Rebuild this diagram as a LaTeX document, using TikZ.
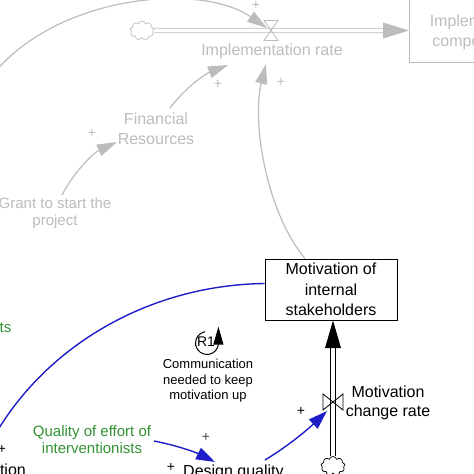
\documentclass[tikz,border=0pt]{standalone}
\usepackage{fontspec}
\setmainfont{Liberation Sans}
\usetikzlibrary{arrows.meta,shapes.symbols,calc}
\definecolor{sdgray}{RGB}{188,188,188}
\definecolor{sdblue}{RGB}{30,30,200}
\definecolor{sdgreen}{RGB}{50,145,50}
\begin{document}
\begin{tikzpicture}[x=1pt,y=-1pt,
  txt/.style={font=\fontsize{16}{19.5}\selectfont, align=center, inner sep=0pt},
  gtxt/.style={txt, text=sdgray},
  small/.style={font=\fontsize{13}{15.5}\selectfont, align=center, inner sep=0pt},
  pl/.style={font=\fontsize{14}{14}\selectfont, inner sep=0pt},
  gpl/.style={pl, text=sdgray},
  ginfl/.style={draw=sdgray, line width=1.2pt, -{Triangle[length=20pt,width=12pt]}},
  binfl/.style={draw=sdblue, line width=1.4pt, -{Triangle[length=19pt,width=12.5pt]}},
  cloudn/.style={cloud, cloud puffs=9, draw, minimum width=24pt, minimum height=19pt, inner sep=0pt, line width=0.7pt},
  flowpipe/.style={line width=0.9pt, double=white, double distance=3.6pt},
]
\useasboundingbox (0,0) rectangle (474,474);
\clip (0,0) rectangle (474,474);

% ---------- top stock-flow (gray) ----------
\node[cloudn, draw=sdgray] (ctop) at (142,30.5) {};
\coordinate (vtop) at (271,30.5);
\node[draw=sdgray, line width=0.9pt, minimum width=134pt, minimum height=80pt, anchor=south west] (impl) at (409,63) {};
\node[gtxt] (impltxt) at (476,32.5) {Implemented\\components};
\coordinate (tbase) at (383,30.5);
\draw[flowpipe, sdgray] (ctop.east) -- (tbase);
\fill[sdgray] ($(tbase)+(0,-8)$) -- (tbase -| impl.west) -- ($(tbase)+(0,8)$) -- cycle;
\draw[sdgray, line width=0.8pt] ($(vtop)+(-7,-10)$) -- ($(vtop)+(7,-10)$) -- ($(vtop)+(-7,10)$) -- ($(vtop)+(7,10)$) -- cycle;
\node[gtxt] (irate) at (272,51) {Implementation rate};

\node[gtxt] (fin) at (156,129) {Financial\\Resources};
\node[gtxt, font=\fontsize{15}{16.5}\selectfont] (grant) at (55,213) {Grant to start the\\project};

% gray influences
\coordinate (leftarc) at (-5,72);
\coordinate (vtopin) at (267,28);
\draw[ginfl] (leftarc) .. controls (60,-5) and (200,-18) .. (vtopin);
\coordinate (finout) at (170,108);
\coordinate (iratein) at (228,65);
\draw[ginfl] (finout) .. controls (185,88) and (205,74) .. (iratein);
\coordinate (grantout) at (62,195);
\coordinate (finin) at (117,142);
\draw[ginfl] (grantout) .. controls (75,170) and (95,152) .. (finin);

% ---------- motivation stock ----------
\node[txt, draw, line width=0.9pt, minimum width=132pt, minimum height=61pt, font=\fontsize{16}{20.5}\selectfont] (mot) at (331,289.5) {Motivation of\\internal\\stakeholders};
\coordinate (motout) at ($(mot.north)+(-26,0)$);
\coordinate (iratein2) at (266,64);
\draw[ginfl] (motout) .. controls (265,210) and (252,120) .. (iratein2);

\coordinate (vbot) at (333,402);
\node[cloudn] (cbot) at (333,466) {};
\coordinate (bbase) at (333,348);
\draw[flowpipe] (cbot.north) -- (bbase);
\fill ($(bbase)+(-8,0)$) -- (mot.south -| bbase) -- ($(bbase)+(8,0)$) -- cycle;
\draw[line width=0.8pt] ($(vbot)+(-10,-8)$) -- ($(vbot)+(10,8)$) -- ($(vbot)+(10,-8)$) -- ($(vbot)+(-10,8)$) -- cycle;
\node[txt] (mcr) at (388,403) {Motivation\\change rate};

% ---------- blue links ----------
\coordinate (leftend) at (-8,440);
\draw[sdblue, line width=1.4pt] ($(mot.west)+(0,-6)$) .. controls (150,285) and (45,345) .. (leftend);

\node[txt, text=sdgreen, font=\fontsize{15}{17}\selectfont] (qual) at (92,440) {Quality of effort of\\interventionists};
\node[txt, anchor=base west] (design) at (183,476) {Design quality};
\coordinate (qualout) at (154,441);
\coordinate (designin) at (215,462);
\draw[binfl] (qualout) .. controls (175,445) and (195,452) .. (designin);
\coordinate (designout) at (265,460);
\coordinate (vbotin) at (327,411);
\draw[binfl] (designout) .. controls (285,448) and (305,432) .. (vbotin);

% ---------- loop marker ----------
\node[pl] (r1) at (206,342) {R1};
\coordinate (r1c) at (207,343);
\draw[line width=1pt, -{Triangle[length=18pt,width=10pt]}] (r1c) ++(-100:11.5) arc[start angle=-100, end angle=-352, radius=11.5] -- ++(0,-18);
\node[small] (comm) at (208,381) {Communication\\needed to keep\\motivation up};

% ---------- clipped labels ----------
\node[txt, text=sdgreen, font=\fontsize{15}{17}\selectfont, anchor=east] (ts) at (11.5,328) {ts};
\node[txt, anchor=base east] (tion) at (26,475) {tion};

% ---------- polarities ----------
\node[gpl] (p1) at (256,5) {+};
\node[gpl] (p2) at (218,84) {+};
\node[gpl] (p3) at (92,133) {+};
\node[gpl] (p4) at (281,82) {+};
\node[pl] (p5) at (301,411) {+};
\node[pl, text=black!70] (p6) at (206,437) {+};
\node[pl] (p7) at (171,467) {+};
\node[pl] (p8) at (2,449) {+};
\end{tikzpicture}
\end{document}
